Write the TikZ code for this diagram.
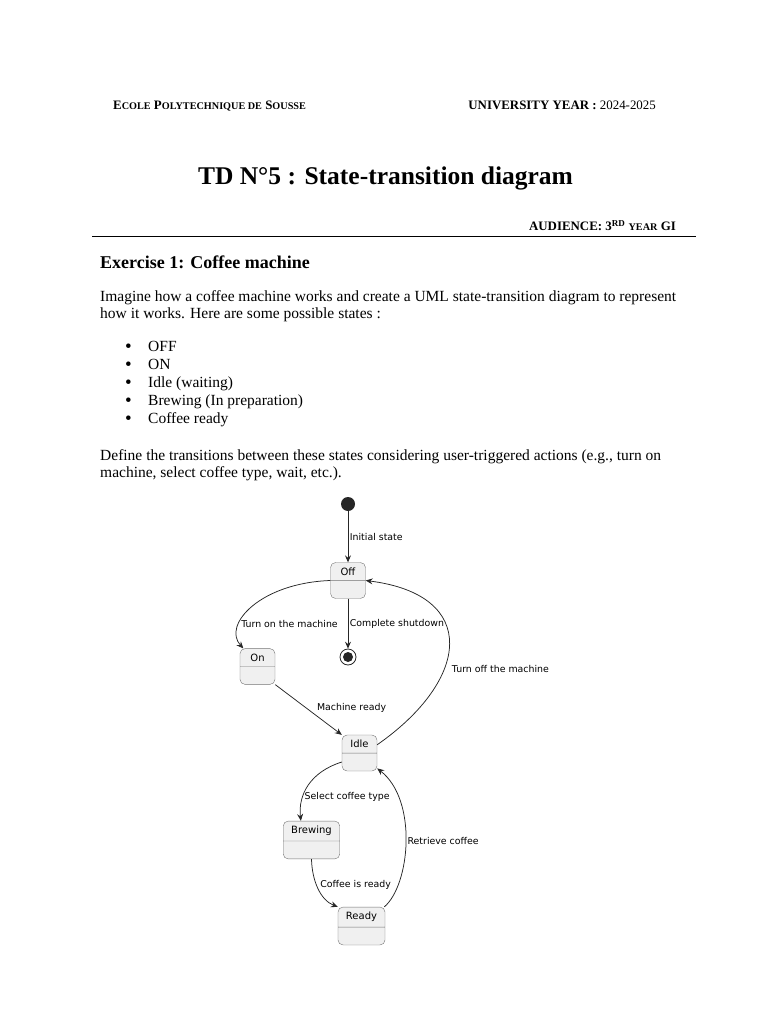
\documentclass[tikz,border=0pt]{standalone}
\usepackage{fontspec}
\setmainfont{Liberation Serif}
\newfontfamily\umlfont{DejaVu Sans}
\usetikzlibrary{arrows.meta,shapes.multipart}

\newcommand{\fsc}[1]{{\fontsize{10.2}{12}\selectfont #1}}

\tikzset{
  state/.style={rectangle split, rectangle split parts=2, draw=black!55, fill=black!6,
    rounded corners=5pt, minimum width=35pt, inner xsep=8pt, inner ysep=4.95pt,
    rectangle split empty part height=7.6pt, execute at begin node=\vphantom{B},
    font=\umlfont\fontsize{10}{12}\selectfont},
  trans/.style={draw=black!85, line width=0.75pt, -{Stealth[length=7pt,width=6pt,inset=2.5pt]}},
  lbl/.style={font=\umlfont\fontsize{9.4}{11}\selectfont, inner sep=1.5pt},
  txt/.style={anchor=base west, inner sep=0pt, font=\fontsize{15.5}{18}\selectfont},
  hdr/.style={anchor=base west, inner sep=0pt, font=\fontsize{12.9}{15}\selectfont}
}

\begin{document}
\begin{tikzpicture}[x=1pt,y=1pt,
  startdot/.style={circle, fill=black!85, minimum size=14pt, inner sep=0pt},
  enddot/.style={circle, draw=black!85, line width=0.8pt, minimum size=16pt, inner sep=0pt,
    path picture={\fill[black!85] (path picture bounding box.center) circle (5pt);}}]
  \useasboundingbox (0,0) rectangle (768,-1024);

  % header
  \node[hdr] (school) at (113,-110) {\bfseries E\fsc{COLE} P\fsc{OLYTECHNIQUE DE} S\fsc{OUSSE}};
  \node[hdr, anchor=base east] (year) at (656,-110) {\textbf{UNIVERSITY YEAR :} 2024-2025};
  \node[anchor=base, inner sep=0pt, font=\bfseries\fontsize{25.5}{30}\selectfont] (title)
    at (385.5,-185) {TD N°5 : State-transition diagram};
  \node[hdr, anchor=base east] (audience) at (676,-231) {\bfseries AUDIENCE: 3\textsuperscript{RD} \fsc{YEAR} GI};
  \draw[line width=1pt] (92,-236) -- (696,-236);

  % exercise text
  \node[anchor=base west, inner sep=0pt, font=\bfseries\fontsize{18}{21}\selectfont] (exo)
    at (100,-268) {Exercise 1: Coffee machine};
  \node[txt] (intro1) at (100,-301) {Imagine how a coffee machine works and create a UML state-transition diagram to represent};
  \node[txt] (intro2) at (100,-318) {how it works. Here are some possible states :};
  \foreach \st [count=\i] in {OFF, ON, Idle (waiting), Brewing (In preparation), Coffee ready} {
    \node[txt, font=\fontsize{19}{19}\selectfont] (bullet\i) at (125,-334.5-18*\i) {\textbullet};
    \node[txt] (item\i) at (148,-333-18*\i) {\st};
  }
  \node[txt] (define1) at (100,-460) {Define the transitions between these states considering user-triggered actions (e.g., turn on};
  \node[txt] (define2) at (100,-477) {machine, select coffee type, wait, etc.).};

  % states
  \node[startdot] (init) at (348,-504) {};
  \node[state] (off) at (348,-580.5) {Off};
  \node[state] (on) at (257.5,-666.5) {On};
  \node[enddot] (final) at (348,-657) {};
  \node[state] (idle) at (359.5,-753) {Idle};
  \node[state] (brewing) at (311.5,-840) {Brewing};
  \node[state] (ready) at (361.5,-926) {Ready};

  % transitions
  \draw[trans] (init) -- node[lbl,right] {Initial state} (off);
  \draw[trans] (off.west) .. controls (260,-583) and (222,-625) .. node[lbl,pos=0.7,anchor=west] {Turn on the machine} (on.128);
  \draw[trans] (off) -- node[lbl,right] {Complete shutdown} (final);
  \draw[trans] (on.south east) -- node[lbl,pos=0.6,anchor=south west] {Machine ready} (idle.north west);
  \draw[trans] (idle.25) .. controls (470,-680) and (480,-595) .. node[lbl,pos=0.37,anchor=west,xshift=6pt] {Turn off the machine} (off.east);
  \draw[trans] (idle.207) .. controls (310,-772) and (298,-795) .. node[lbl,pos=0.68,anchor=west] {Select coffee type} (brewing.119);
  \draw[trans] (brewing.south) .. controls (312,-880) and (320,-900) .. node[lbl,pos=0.43,anchor=west,xshift=2pt] {Coffee is ready} (ready.north west);
  \draw[trans] (ready.40) .. controls (410,-885) and (418,-800) .. node[lbl,pos=0.5,anchor=west] {Retrieve coffee} (idle.-41);
\end{tikzpicture}
\end{document}
